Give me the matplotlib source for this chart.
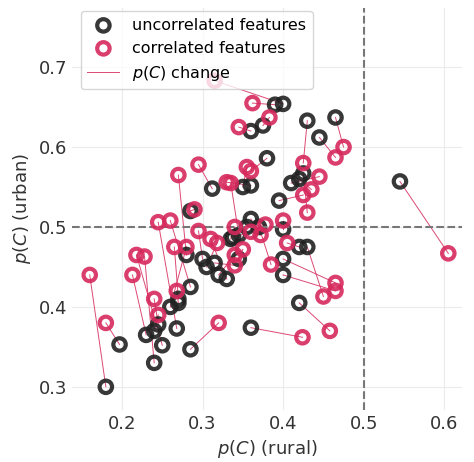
import matplotlib
matplotlib.use("Agg")
import matplotlib.pyplot as plt
import numpy as np

unc_x = [0.18,0.545,0.36,0.42,0.285,0.197,0.23,0.24,0.25,0.268,0.285,0.27,0.26,0.245,0.24,0.27,0.28,0.285,0.30,0.312,0.33,0.305,0.315,0.32,0.335,0.345,0.35,0.36,0.338,0.36,0.355,0.38,0.36,0.39,0.375,0.40,0.43,0.465,0.445,0.41,0.42,0.425,0.395,0.40,0.42,0.43,0.40,0.40,0.37,0.345]
unc_y = [0.30,0.557,0.374,0.405,0.347,0.353,0.365,0.33,0.352,0.373,0.425,0.41,0.40,0.378,0.37,0.405,0.465,0.52,0.46,0.548,0.435,0.45,0.455,0.44,0.485,0.49,0.55,0.552,0.487,0.51,0.50,0.586,0.62,0.653,0.627,0.654,0.633,0.637,0.612,0.555,0.56,0.567,0.533,0.497,0.475,0.475,0.46,0.44,0.50,0.46]
cor_x = [0.16,0.605,0.424,0.458,0.32,0.18,0.213,0.228,0.218,0.245,0.26,0.265,0.28,0.24,0.245,0.268,0.27,0.29,0.295,0.295,0.31,0.318,0.34,0.34,0.34,0.335,0.355,0.33,0.36,0.372,0.378,0.36,0.345,0.362,0.383,0.315,0.425,0.475,0.465,0.445,0.435,0.43,0.425,0.40,0.405,0.45,0.465,0.465,0.385,0.35]
cor_y = [0.44,0.467,0.362,0.37,0.38,0.38,0.44,0.463,0.465,0.506,0.508,0.475,0.475,0.41,0.39,0.42,0.565,0.522,0.495,0.578,0.485,0.48,0.452,0.465,0.50,0.555,0.575,0.556,0.494,0.49,0.503,0.57,0.625,0.655,0.637,0.683,0.58,0.60,0.587,0.563,0.547,0.518,0.54,0.508,0.48,0.413,0.43,0.42,0.453,0.472]

red = "#d6295c"
fig = plt.figure(figsize=(4.74, 4.62), dpi=100)
ax = fig.add_axes([72/474, 52/462, 390/474, 402/462])
ax.set_facecolor("white")
for s in ax.spines.values():
    s.set_visible(False)
ax.grid(True, color="#ebebeb", lw=0.8)
ax.set_axisbelow(True)
for i in range(len(unc_x)):
    ax.plot([unc_x[i], cor_x[i]], [unc_y[i], cor_y[i]], color=red, lw=0.7, alpha=0.85,
            label="$p(C)$ change" if i == 0 else None, zorder=1)
ax.scatter(unc_x, unc_y, s=80, facecolors="none", edgecolors="#222222", linewidths=3,
           alpha=0.9, label="uncorrelated features", zorder=2)
ax.scatter(cor_x, cor_y, s=80, facecolors="none", edgecolors=red, linewidths=3,
           alpha=0.9, label="correlated features", zorder=3)
ax.axvline(0.5, color="#777777", ls="--", lw=1.5)
ax.axhline(0.5, color="#777777", ls="--", lw=1.5)
ax.set_xlim(0.138, 0.622)
ax.set_ylim(0.271, 0.774)
ax.set_xticks([0.2, 0.3, 0.4, 0.5, 0.6])
ax.set_yticks([0.3, 0.4, 0.5, 0.6, 0.7])
ax.tick_params(labelsize=13, length=0, colors="#333333")
ax.set_xlabel("$p(C)$ (rural)", fontsize=13, color="#333333")
ax.set_ylabel("$p(C)$ (urban)", fontsize=13, color="#333333")
h, l = ax.get_legend_handles_labels()
order = [1, 2, 0]
ax.legend([h[i] for i in order], [l[i] for i in order], loc="upper left",
          bbox_to_anchor=(0.015, 1.0), fontsize=11.5, frameon=True, framealpha=0.8,
          borderaxespad=0.2)
fig.savefig("out.png", dpi=100)
